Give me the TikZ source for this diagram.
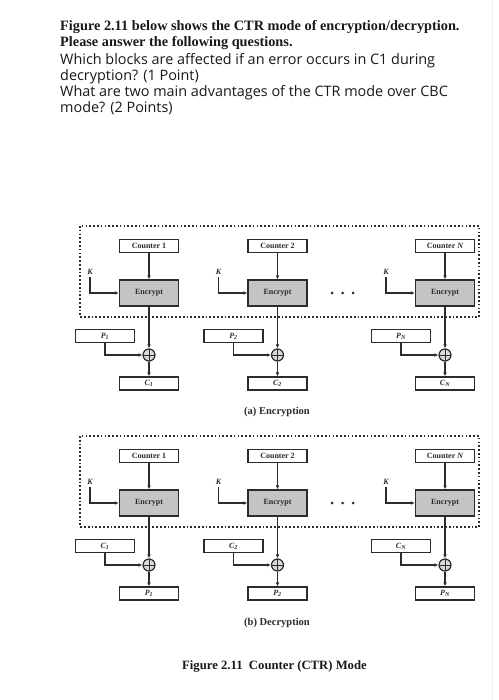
\documentclass[tikz,border=0pt]{standalone}
\usepackage{fontspec}
\setmainfont{Liberation Serif}
\newfontfamily\osans{Open Sans}
\usetikzlibrary{arrows.meta}
\definecolor{ink}{HTML}{2C2C2C}
\definecolor{encfill}{HTML}{C4C4C4}
\tikzset{
  ln/.style={draw=ink, line width=1.25pt},
  arr/.style={ln, -{Latex[length=4pt,width=3.6pt]}},
  cbox/.style={draw=ink, line width=1.25pt, fill=white, minimum width=59pt, minimum height=13pt, inner sep=0pt, font=\fontsize{8}{9}\selectfont\bfseries, text=ink},
  ebox/.style={cbox, fill=encfill, minimum height=26pt},
  klab/.style={inner sep=0.5pt, font=\fontsize{8}{9}\selectfont\bfseries\itshape, text=ink},
  xorn/.style={circle, draw=ink, line width=1.2pt, fill=gray!30, minimum size=12pt, inner sep=0pt,
    path picture={\draw[ink, line width=1pt] (path picture bounding box.north) -- (path picture bounding box.south)
      (path picture bounding box.west) -- (path picture bounding box.east);}},
  dotbox/.style={draw=ink, line width=1.5pt, dash pattern=on 1.7pt off 2.1pt},
  qbold/.style={anchor=base west, inner sep=0pt, font=\fontsize{14.3}{16}\selectfont\bfseries, text=black!90},
  qsans/.style={anchor=base west, inner sep=0pt, font=\osans\fontsize{14.4}{16}\selectfont, text=black!90},
  subcap/.style={anchor=base, inner sep=0pt, font=\fontsize{10.5}{12}\selectfont\bfseries, text=ink},
}
\newcommand\ctrcol[6]{%
  \node[cbox] (#1cnt) at (#2, #3+246) {#4};
  \node[ebox] (#1enc) at (#2, #3+293) {Encrypt};
  \node[klab] (#1k) at (#2-59, #3+272) {K};
  \node[xorn] (#1x) at (#2, #3+355) {};
  \node[cbox] (#1in) at (#2-44, #3+336) {#5};
  \node[cbox] (#1out) at (#2, #3+383.5) {#6};
  \draw[arr] (#1cnt) -- (#1enc);
  \draw[arr] ([yshift=-1.5pt]#1k.south) |- (#1enc.west);
  \draw[arr] (#1enc) -- (#1x);
  \draw[arr] (#1in.south) |- (#1x.west);
  \draw[arr] (#1x) -- (#1out);
}
\begin{document}
\begin{tikzpicture}[x=1pt, y=-1pt]
\useasboundingbox (0,0) rectangle (498,700);
\fill[white] (0,0) rectangle (498,700);
\draw[gray!12, line width=1pt] (492,0) -- (492,700);
% question text
\node[qbold] (q1) at (60,31) {Figure 2.11 below shows the CTR mode of encryption/decryption.};
\node[qbold] (q2) at (60,47) {Please answer the following questions.};
\node[qsans] (q3) at (60,64.5) {Which blocks are affected if an error occurs in C1 during};
\node[qsans] (q4) at (60,80.5) {decryption? (1 Point)};
\node[qsans] (q5) at (60,96.5) {What are two main advantages of the CTR mode over CBC};
\node[qsans] (q6) at (60,112.5) {mode? (2 Points)};
% encryption
\draw[dotbox] (80,226) rectangle (479,317);
\ctrcol{ea}{149}{0}{Counter 1}{\itshape P\textsubscript{1}}{\itshape C\textsubscript{1}}
\ctrcol{eb}{277.5}{0}{Counter 2}{\itshape P\textsubscript{2}}{\itshape C\textsubscript{2}}
\ctrcol{en}{445}{0}{Counter \itshape N}{\itshape P\textsubscript{N}}{\itshape C\textsubscript{N}}
\foreach \dx in {332,342.5,353} \fill[ink] (\dx,293) circle (1.5pt);
\node[subcap] (capa) at (277,414) {(a) Encryption};
% decryption
\draw[dotbox] (80,436) rectangle (479,527);
\ctrcol{da}{149}{210}{Counter 1}{\itshape C\textsubscript{1}}{\itshape P\textsubscript{1}}
\ctrcol{db}{277.5}{210}{Counter 2}{\itshape C\textsubscript{2}}{\itshape P\textsubscript{2}}
\ctrcol{dn}{445}{210}{Counter \itshape N}{\itshape C\textsubscript{N}}{\itshape P\textsubscript{N}}
\foreach \dx in {332,342.5,353} \fill[ink] (\dx,503) circle (1.5pt);
\node[subcap] (capb) at (277,625) {(b) Decryption};
\node[subcap, font=\fontsize{12.7}{14}\selectfont\bfseries, text=black!90] (fig) at (274.5,669.5) {Figure 2.11\ \ Counter (CTR) Mode};
\end{tikzpicture}
\end{document}
